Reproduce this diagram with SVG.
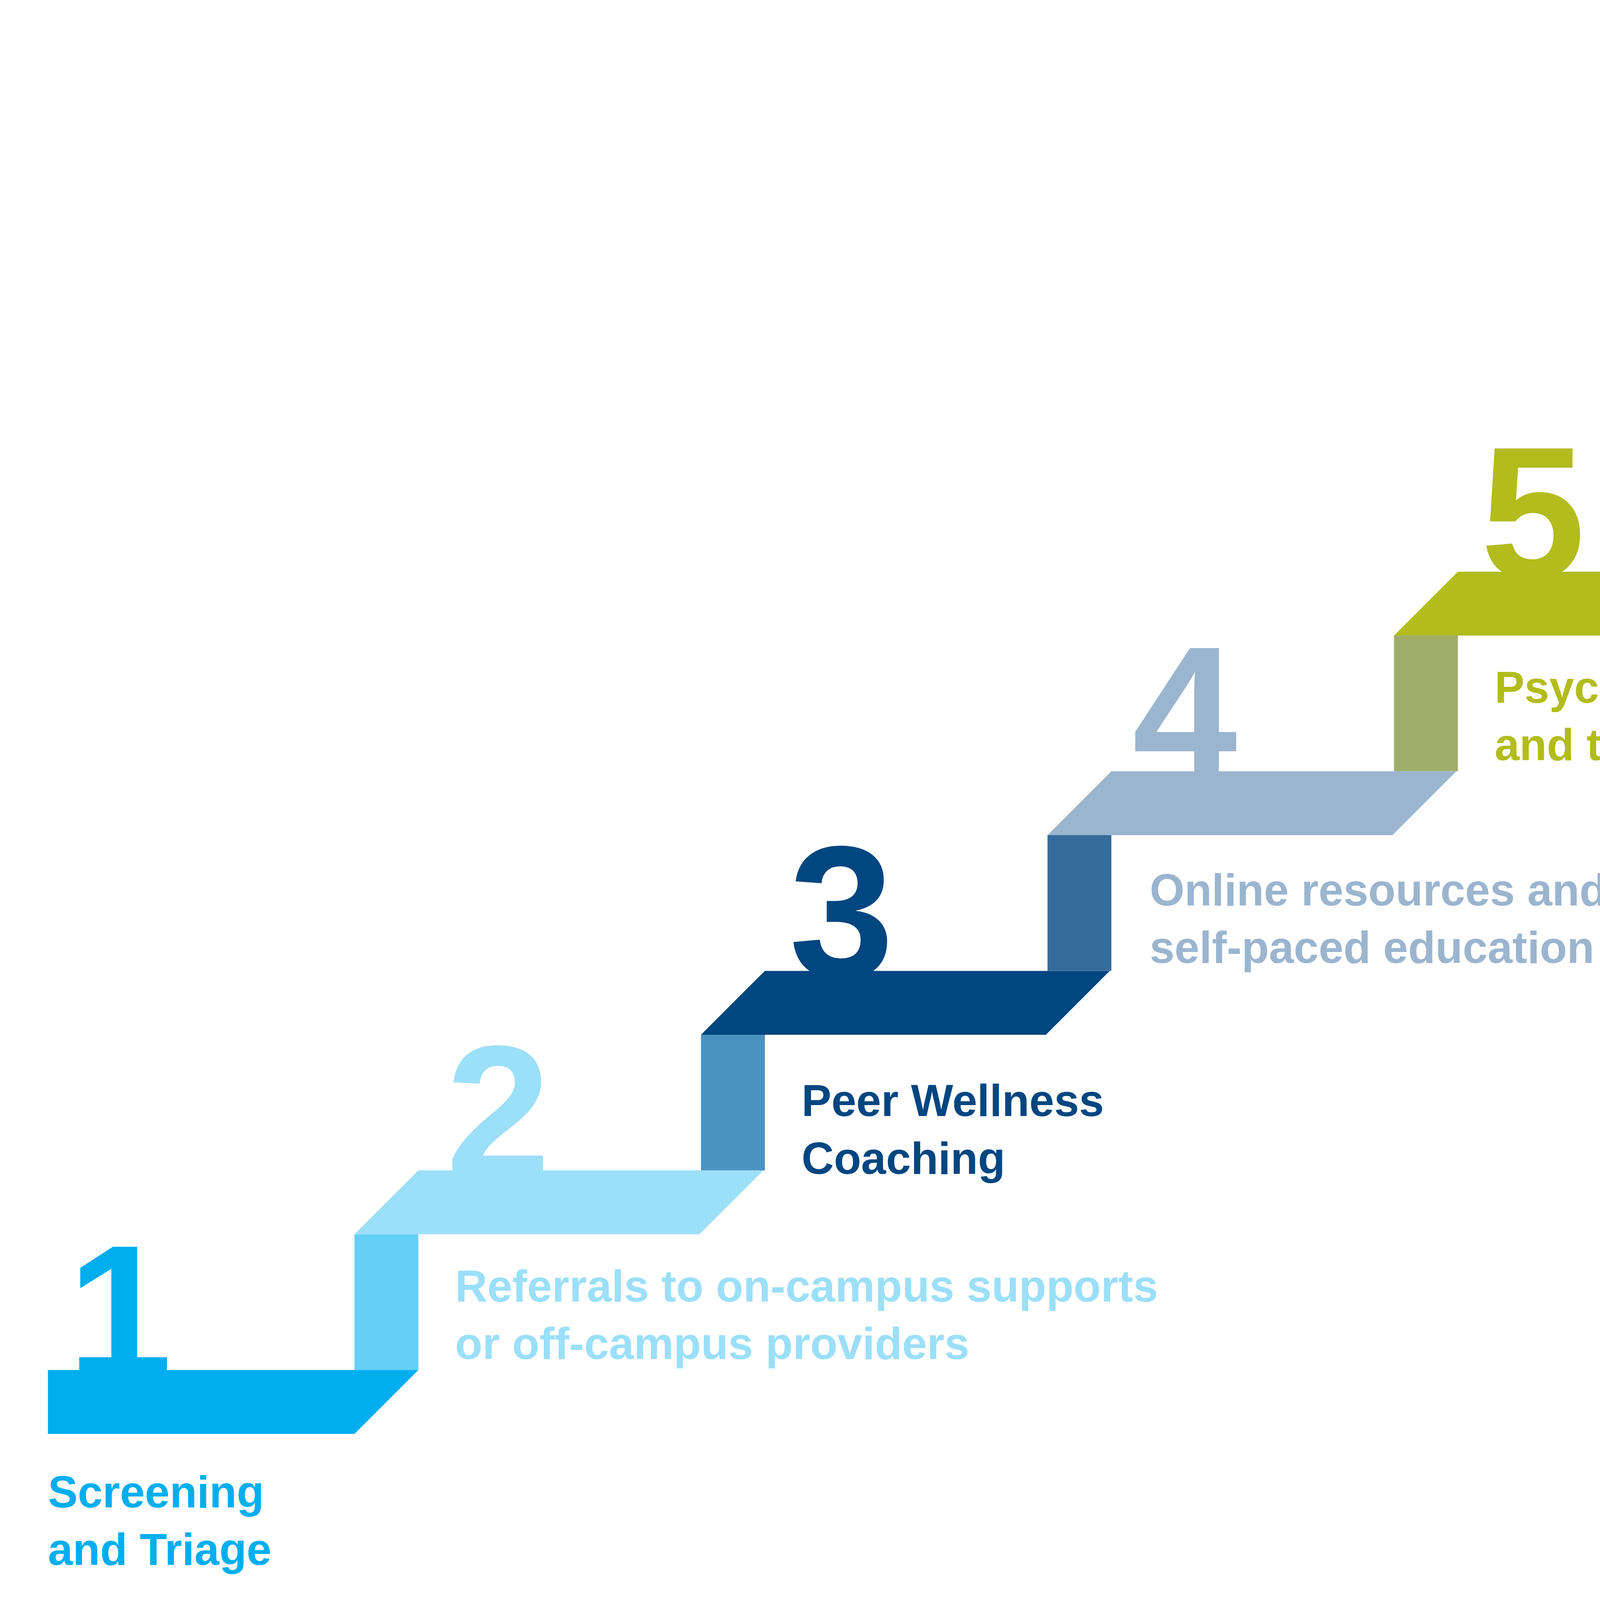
<svg xmlns="http://www.w3.org/2000/svg" width="6377" height="4113" viewBox="0 0 6377 4113">
<style>
.n{font-family:"Liberation Sans",Arial,sans-serif;font-weight:bold;font-size:118px;text-anchor:middle}
.l{font-family:"Liberation Sans",Arial,sans-serif;font-weight:bold;font-size:28px}
</style>
<rect width="6377" height="4113" fill="#fff"/>
<g transform="scale(4.0878)">
<g id="connectors">
<rect x="222" y="773" width="40" height="85" fill="#66CFF5"/>
<rect x="439" y="648" width="40" height="85" fill="#4A92C0"/>
<rect x="656" y="523" width="40" height="85" fill="#366C9C"/>
<rect x="873" y="398" width="40" height="85" fill="#A0AE6A"/>
<rect x="1090" y="273" width="40" height="85" fill="#5A961E"/>
<rect x="1307" y="147" width="40" height="85" fill="#7F951A"/>
</g>
<g id="step1" fill="#00AEEF"><text class="n" x="75" y="862">1</text><polygon points="30,858 262,858 222,898 30,898"/><text class="l" x="30" y="944">Screening</text><text class="l" x="30" y="980">and Triage</text></g>
<g id="step2" fill="#9BDFF8"><text class="n" x="312" y="737">2</text><polygon points="222,773 262,733 478,733 438,773"/><text class="l" x="285" y="815">Referrals to on-campus supports</text><text class="l" x="285" y="851">or off-campus providers</text></g>
<g id="step3" fill="#004680"><text class="n" x="527" y="612">3</text><polygon points="439,648 479,608 695,608 655,648"/><text class="l" x="502" y="699">Peer Wellness</text><text class="l" x="502" y="735">Coaching</text></g>
<g id="step4" fill="#9BB5CF"><text class="n" x="742" y="487">4</text><polygon points="656,523 696,483 912,483 872,523"/><text class="l" x="720" y="567">Online resources and</text><text class="l" x="720" y="603">self-paced education</text></g>
<g id="step5" fill="#B2BC1C"><text class="n" x="960" y="362">5</text><polygon points="873,398 913,358 1129,358 1089,398"/><text class="l" x="936" y="440">Psychoeducational workshops</text><text class="l" x="936" y="476">and therapeutic groups</text></g>
<g id="step6" fill="#026E23"><text class="n" x="1174" y="236">6</text><polygon points="1090,273 1130,232 1346,232 1306,273"/><text class="l" x="1147" y="315">Individual</text><text class="l" x="1147" y="351">Therapy</text></g>
<g id="step7" fill="#FDB913"><text class="n" x="1390" y="111">7</text><polygon points="1307,147 1347,106 1537,106 1537,147"/><text class="l" x="1364" y="189">Off-campus</text><text class="l" x="1364" y="225">referrals</text></g>
</g>
</svg>
